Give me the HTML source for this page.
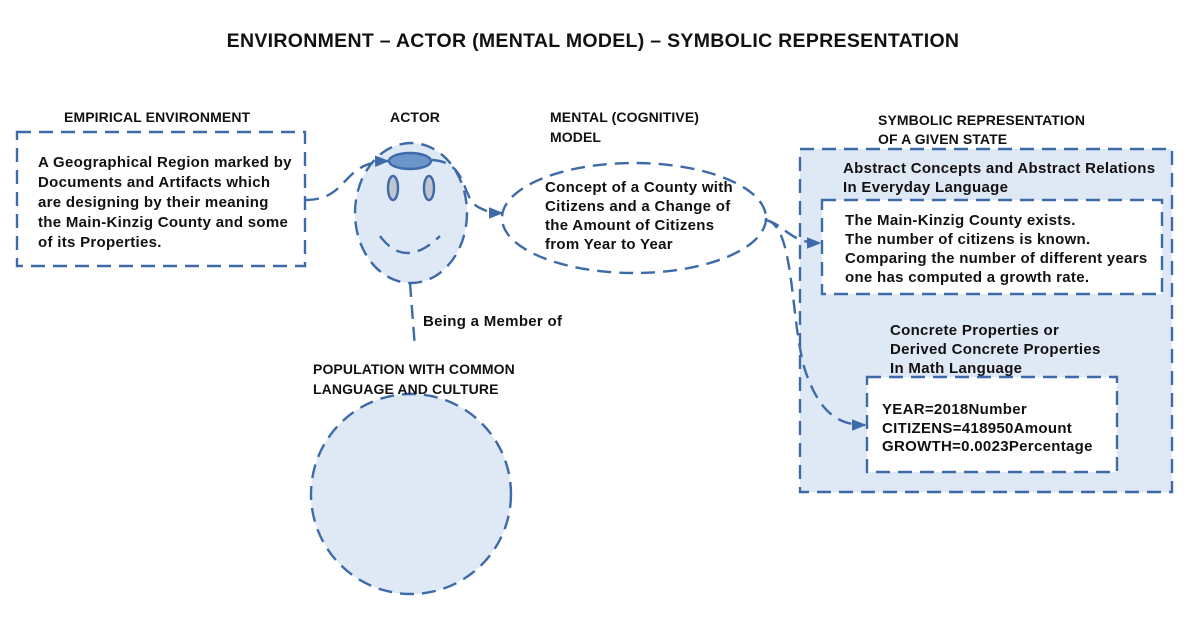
<!DOCTYPE html>
<html><head><meta charset="utf-8"><style>
html,body{margin:0;padding:0;background:#fff;}
svg{display:block;font-family:"Liberation Sans",sans-serif;font-weight:bold;}
</style></head><body>
<svg width="1200" height="622" viewBox="0 0 1200 622" xmlns="http://www.w3.org/2000/svg">
<defs>
<marker id="a" viewBox="0 0 10 10" refX="9" refY="5" markerWidth="6" markerHeight="6" orient="auto"><path d="M0,1 L10,5 L0,9 z" fill="#3d6aa8"/></marker>
</defs>
<g stroke="#3d6aa8" stroke-width="2.4" stroke-dasharray="14,8" fill="none">
<rect x="17" y="132" width="288" height="134" fill="#fff"/>
<ellipse cx="411" cy="213" rx="56" ry="70" fill="#dfe9f5"/>
<ellipse cx="410" cy="161" rx="21" ry="8" fill="#6a96cc" stroke-dasharray="none"/>
<ellipse cx="393" cy="188" rx="5" ry="12" fill="#c0c6cf" stroke-dasharray="none"/>
<ellipse cx="429" cy="188" rx="5" ry="12" fill="#c0c6cf" stroke-dasharray="none"/>
<path d="M380,236 Q405,270 440,236"/>
<path d="M305,200 C350,200 340,162 388,161" marker-end="url(#a)"/>
<path d="M432,160 C470,162 460,200 480,208 C490,213 495,213 502,213" marker-end="url(#a)"/>
<ellipse cx="634" cy="218" rx="132" ry="55" fill="#fff"/>
<path d="M410,283 L415,348"/>
<circle cx="411" cy="494" r="100" fill="#dfe9f5"/>
<rect x="800" y="149" width="372" height="343" fill="#dfe9f5"/>
<rect x="822" y="200" width="340" height="94" fill="#fff"/>
<rect x="867" y="377" width="250" height="95" fill="#fff"/>
<path d="M766,220 C785,225 790,243 820,243" marker-end="url(#a)"/>
<path d="M766,220 C795,225 790,320 805,370 C820,415 840,425 865,425" marker-end="url(#a)"/>
</g>
<g fill="#111" font-size="15" letter-spacing="0.3">
<text x="593" y="47" font-size="19.5" letter-spacing="0.3" text-anchor="middle">ENVIRONMENT – ACTOR (MENTAL MODEL) – SYMBOLIC REPRESENTATION</text>
<g font-size="14" letter-spacing="0.1">
<text x="64" y="122">EMPIRICAL ENVIRONMENT</text>
<text x="390" y="122">ACTOR</text>
<text x="550" y="122">MENTAL (COGNITIVE)</text>
<text x="550" y="142">MODEL</text>
<text x="313" y="374">POPULATION WITH COMMON</text>
<text x="313" y="394">LANGUAGE AND CULTURE</text>
<text x="878" y="125">SYMBOLIC REPRESENTATION</text>
<text x="878" y="144">OF A GIVEN STATE</text>
</g>
<text x="38" y="167">A Geographical Region marked by</text>
<text x="38" y="187">Documents and Artifacts which</text>
<text x="38" y="207">are designing by their meaning</text>
<text x="38" y="227">the Main-Kinzig County and some</text>
<text x="38" y="247">of its Properties.</text>
<text x="545" y="192">Concept of a County with</text>
<text x="545" y="211">Citizens and a Change of</text>
<text x="545" y="230">the Amount of Citizens</text>
<text x="545" y="249">from Year to Year</text>
<text x="423" y="326">Being a Member of</text>
<text x="843" y="173">Abstract Concepts and Abstract Relations</text>
<text x="843" y="192">In Everyday Language</text>
<text x="845" y="225">The Main-Kinzig County exists.</text>
<text x="845" y="244">The number of citizens is known.</text>
<text x="845" y="263">Comparing the number of different years</text>
<text x="845" y="282">one has computed a growth rate.</text>
<text x="890" y="335">Concrete Properties or</text>
<text x="890" y="354">Derived Concrete Properties</text>
<text x="890" y="373">In Math Language</text>
<text x="882" y="414">YEAR=2018Number</text>
<text x="882" y="433">CITIZENS=418950Amount</text>
<text x="882" y="451">GROWTH=0.0023Percentage</text>
</g>
</svg>
</body></html>
